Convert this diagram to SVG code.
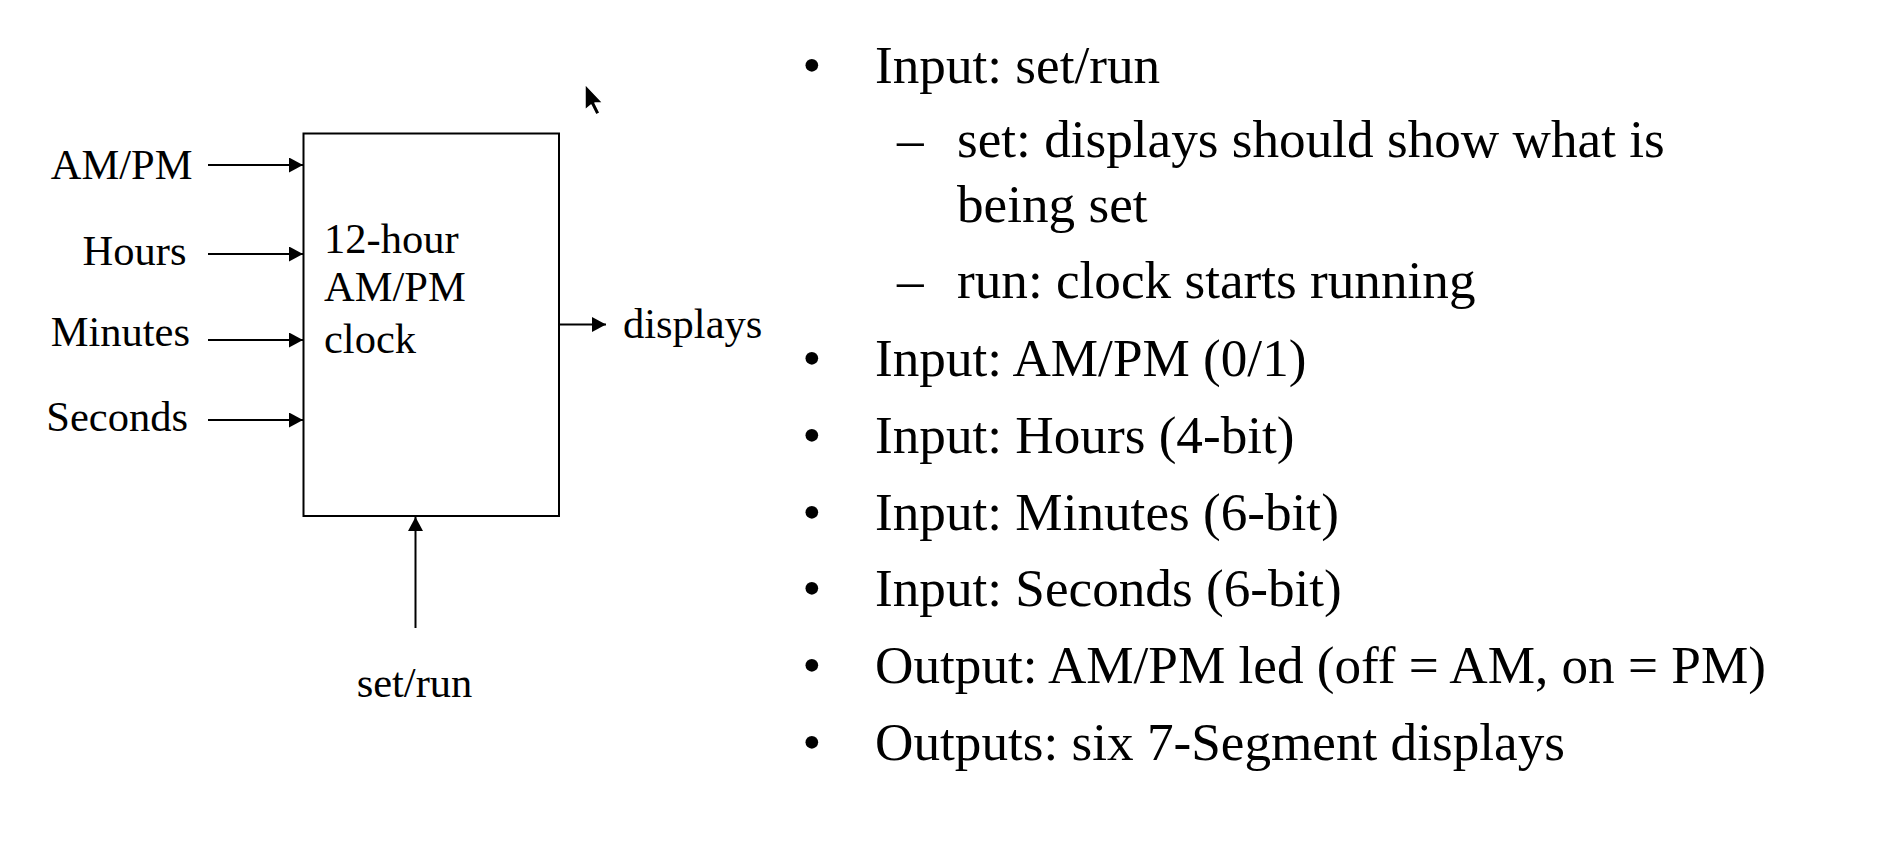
<svg xmlns="http://www.w3.org/2000/svg" width="1877" height="842" viewBox="0 0 1877 842">
<style>
text{font-family:"Liberation Serif","Times New Roman",serif;fill:#000}
.lbl{font-size:42.5px}
.blt{font-size:53.2px}
.wire{stroke:#000;stroke-width:2;fill:none}
</style>
<defs>
<marker id="ah" markerUnits="userSpaceOnUse" markerWidth="15" markerHeight="15" refX="14" refY="7.5" orient="auto">
<path d="M0,0 L14,7.5 L0,15 Z" fill="#000"/>
</marker>
</defs>
<rect width="1877" height="842" fill="#fff"/>
<g id="clock">
<rect x="303.5" y="133.5" width="255.5" height="382.5" fill="#fff" stroke="#000" stroke-width="2"/>
<text class="lbl" x="324" y="253">12-hour</text>
<text class="lbl" x="324" y="301">AM/PM</text>
<text class="lbl" x="324" y="353">clock</text>
</g>
<g id="in-ampm"><text class="lbl" x="192.5" y="178.5" text-anchor="end">AM/PM</text></g>
<g id="in-hours"><text class="lbl" x="186.5" y="264.5" text-anchor="end">Hours</text></g>
<g id="in-minutes"><text class="lbl" x="190" y="345.5" text-anchor="end">Minutes</text></g>
<g id="in-seconds"><text class="lbl" x="188" y="431" text-anchor="end">Seconds</text></g>
<g id="out-displays"><text class="lbl" x="623" y="338">displays</text></g>
<g id="in-setrun"><text class="lbl" x="414.5" y="697" text-anchor="middle">set/run</text></g>
<g id="connectors">
<line class="wire" x1="208" y1="165" x2="303" y2="165" marker-end="url(#ah)"/>
<line class="wire" x1="208" y1="254" x2="303" y2="254" marker-end="url(#ah)"/>
<line class="wire" x1="208" y1="340" x2="303" y2="340" marker-end="url(#ah)"/>
<line class="wire" x1="208" y1="420" x2="303" y2="420" marker-end="url(#ah)"/>
<line class="wire" x1="559" y1="324.5" x2="606" y2="324.5" marker-end="url(#ah)"/>
<line class="wire" x1="415.5" y1="628" x2="415.5" y2="517" marker-end="url(#ah)"/>
</g>
<g id="bullets">
<text class="blt" x="802.5" y="83">•</text>
<text class="blt" x="875" y="83">Input: set/run</text>
<text class="blt" x="897" y="157">–</text>
<text class="blt" x="957" y="157">set: displays should show what is</text>
<text class="blt" x="957" y="222">being set</text>
<text class="blt" x="897" y="298">–</text>
<text class="blt" x="957" y="298">run: clock starts running</text>
<text class="blt" x="802.5" y="376">•</text>
<text class="blt" x="875" y="376">Input: AM/PM (0/1)</text>
<text class="blt" x="802.5" y="453">•</text>
<text class="blt" x="875" y="453">Input: Hours (4-bit)</text>
<text class="blt" x="802.5" y="530">•</text>
<text class="blt" x="875" y="530">Input: Minutes (6-bit)</text>
<text class="blt" x="802.5" y="606">•</text>
<text class="blt" x="875" y="606">Input: Seconds (6-bit)</text>
<text class="blt" x="802.5" y="683">•</text>
<text class="blt" x="875" y="683">Output: AM/PM led (off = AM, on = PM)</text>
<text class="blt" x="802.5" y="760">•</text>
<text class="blt" x="875" y="760">Outputs: six 7-Segment displays</text>
</g>
<g id="cursor">
<path d="M585,84 L585,110 L591,105 L596,115 L600,113 L595,103 L603,103 Z" fill="#000" stroke="#fff" stroke-width="1.5" stroke-linejoin="round"/>
</g>
</svg>
